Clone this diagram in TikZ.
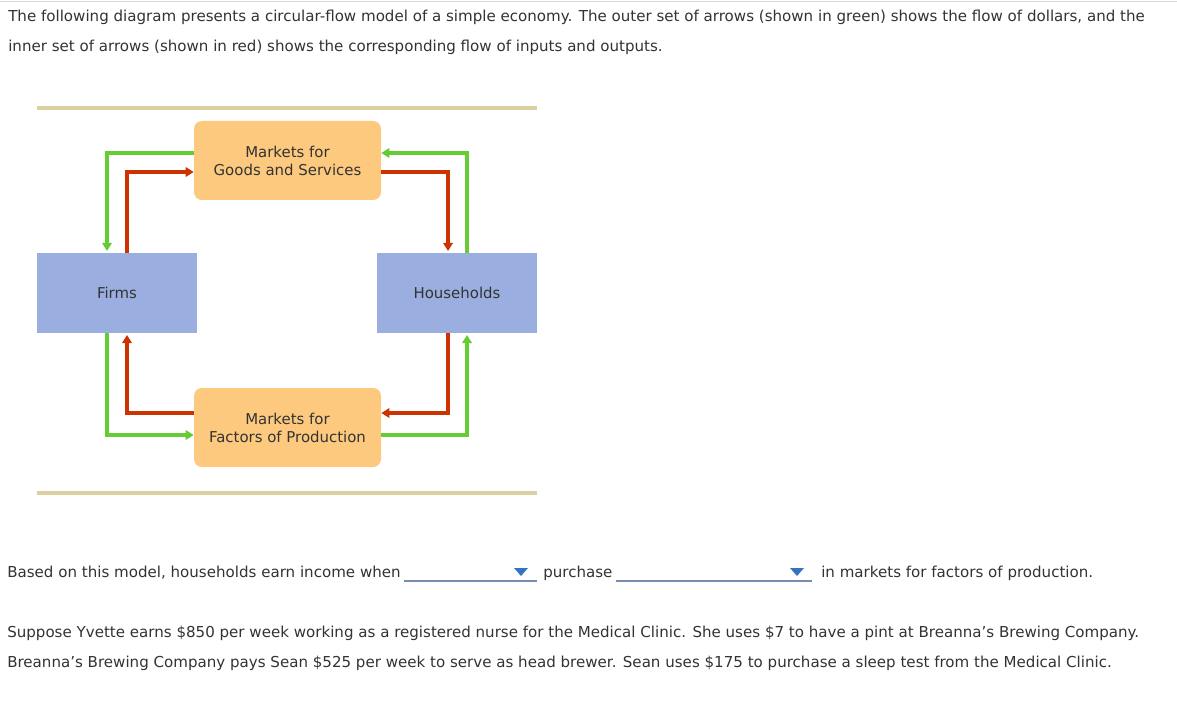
\documentclass[tikz,border=0pt]{standalone}
\usepackage{fontspec}
\setmainfont{DejaVu Sans}
\usetikzlibrary{arrows.meta}
\definecolor{gr}{HTML}{66CC33}
\definecolor{rd}{HTML}{CC3300}
\definecolor{orng}{HTML}{FDC97E}
\definecolor{blu}{HTML}{9AAFE0}
\definecolor{bar}{HTML}{DDD0A0}
\definecolor{txt}{HTML}{333333}
\begin{document}
\begin{tikzpicture}[x=0.75pt,y=-0.75pt,
  para/.style={anchor=west,inner sep=0,text=txt,font=\fontsize{11.3}{13}\selectfont},
  mkt/.style={fill=orng,rounded corners=6pt,minimum width=140.25pt,minimum height=59.25pt,align=center,font=\fontsize{11.2}{13.5}\selectfont,text=txt},
  agent/.style={fill=blu,minimum width=120pt,minimum height=60pt,font=\fontsize{11.2}{13}\selectfont,text=txt},
  gflow/.style={draw=gr,line width=2.5pt,-{Triangle[length=6pt,width=7pt]}},
  rflow/.style={draw=rd,line width=2.5pt,-{Triangle[length=6pt,width=7pt]}}]
\useasboundingbox (0,0) rectangle (1177,709);
\fill[white] (0,0) rectangle (1177,709);
\draw[gray!30] (0,1) -- (1177,1);
\node[para] (t1) at (8,17) {The following diagram presents a circular-flow model of a simple economy. The outer set of arrows (shown in green) shows the flow of dollars, and the};
\node[para] (t2) at (8,47) {inner set of arrows (shown in red) shows the corresponding flow of inputs and outputs.};
\fill[bar] (37,106) rectangle (537,110);
\fill[bar] (37,491) rectangle (537,495);
\node[mkt] (gs) at (287.5,160.5) {Markets for\\Goods and Services};
\node[mkt] (fp) at (287.5,427.5) {Markets for\\Factors of Production};
\node[agent] (firms) at (117,293) {Firms};
\node[agent] (hh) at (457,293) {Households};
\draw[gflow] (gs.west|-0,153) -| (107,251);
\draw[gflow] (467,253) |- (gs.east|-0,153);
\draw[rflow] (127,253) |- (gs.west|-0,172);
\draw[rflow] (gs.east|-0,172) -| (448,251);
\draw[rflow] (448,333) |- (fp.east|-0,413);
\draw[rflow] (fp.west|-0,413) -| (127,335);
\draw[gflow] (107,333) |- (fp.west|-0,435);
\draw[gflow] (fp.east|-0,435) -| (467,335);
\node[para] (q1) at (7,573) {Based on this model, households earn income when};
\coordinate (d1a) at (404,581); \coordinate (d1b) at (537,581);
\draw[blu!80!black,line width=0.8pt] (d1a) -- (d1b);
\fill[blue!55!cyan!70!black!80] (514,568) -- (528,568) -- (521,576) -- cycle;
\node[para] (q2) at (543,573) {purchase};
\coordinate (d2a) at (616,581); \coordinate (d2b) at (812,581);
\draw[blu!80!black,line width=0.8pt] (d2a) -- (d2b);
\fill[blue!55!cyan!70!black!80] (790,568) -- (804,568) -- (797,576) -- cycle;
\node[para] (q3) at (821,573) {in markets for factors of production.};
\node[para] (p1) at (7,633) {Suppose Yvette earns \$850 per week working as a registered nurse for the Medical Clinic. She uses \$7 to have a pint at Breanna’s Brewing Company.};
\node[para] (p2) at (7,663) {Breanna’s Brewing Company pays Sean \$525 per week to serve as head brewer. Sean uses \$175 to purchase a sleep test from the Medical Clinic.};
\end{tikzpicture}
\end{document}
